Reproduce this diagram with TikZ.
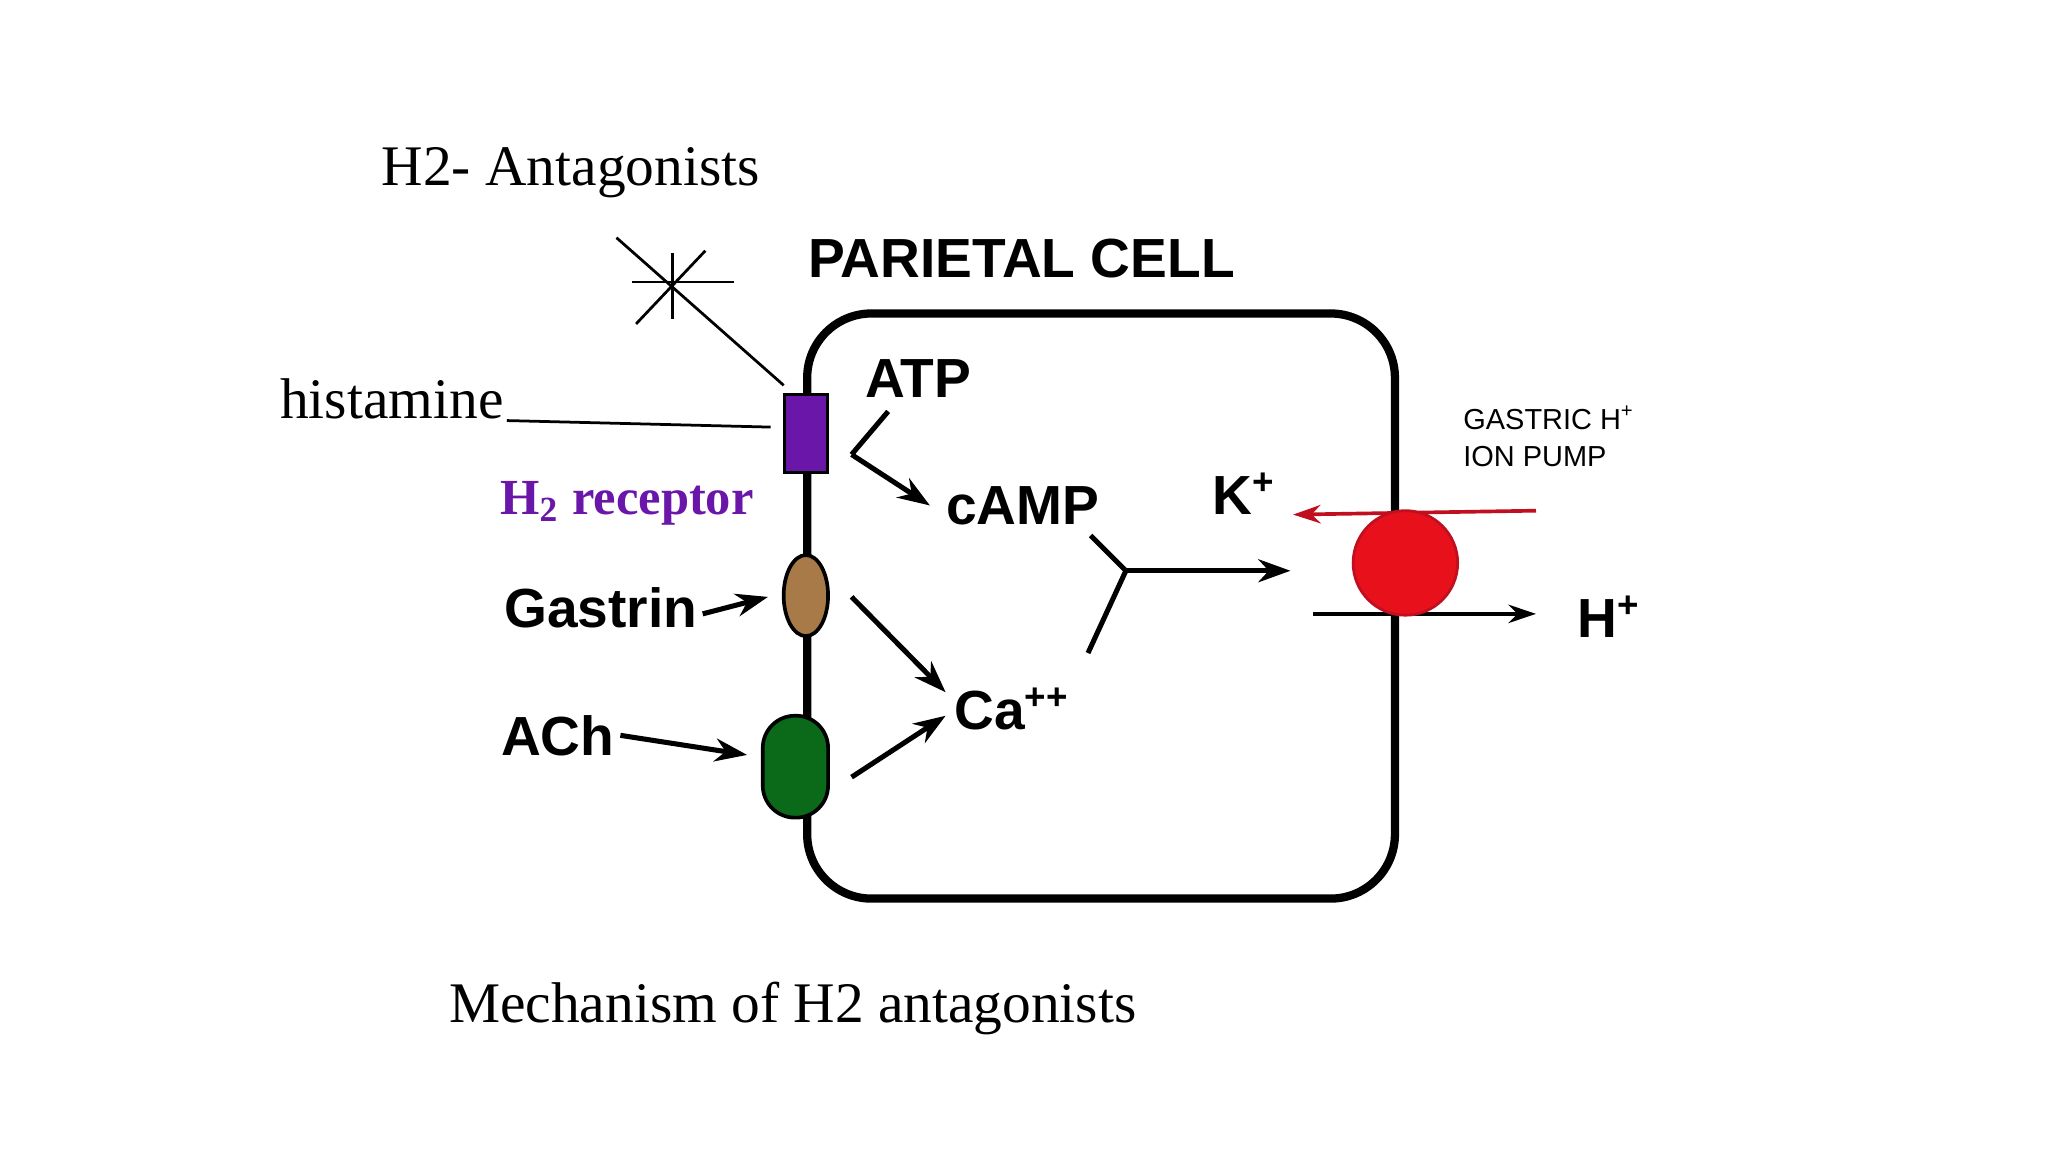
\documentclass[tikz,border=0pt]{standalone}
\usepackage{fontspec}
\setmainfont{Liberation Serif}
\setsansfont{Liberation Sans}
\usetikzlibrary{arrows.meta,shapes.geometric}
\definecolor{rpurple}{HTML}{6A16A8}
\definecolor{rbrown}{HTML}{A87A48}
\definecolor{rgreen}{HTML}{0A6A1A}
\definecolor{rred}{HTML}{E8101A}
\definecolor{darr}{HTML}{C01020}
\begin{document}
\begin{tikzpicture}[x=0.01cm,y=-0.01cm,
  serif/.style={font=\fontsize{12.5}{14}\selectfont},
  lab/.style={font=\sffamily\bfseries\fontsize{12}{14}\selectfont},
  arr/.style={-{Stealth[length=7pt,width=5pt]},line width=1.1pt},
  thin/.style={line width=0.6pt}]
\useasboundingbox (0,0) rectangle (1568,882);
\fill[white] (0,0) rectangle (1568,882);
% cell
\draw[line width=1.8pt,rounded corners=14pt] (618,240) rectangle (1068,688);
\node[lab] (title) at (782,198) {PARIETAL CELL};
\node[serif] (ant) at (437,132) {H2- Antagonists};
% star
\coordinate (s1) at (472,182); \coordinate (s2) at (600,295);
\draw[thin] (s1) -- (s2);
\draw[thin] (484,216) -- (562,216);
\draw[thin] (515,194) -- (515,244);
\draw[thin] (487,248) -- (540,192);
% histamine
\node[serif] (hist) at (300,305) {histamine};
\coordinate (h1) at (388,322); \coordinate (h2) at (590,327);
\draw[thin] (h1) -- (h2);
% receptors
\node[draw=black,fill=rpurple,minimum width=0.33cm,minimum height=0.6cm,inner sep=0,line width=0.6pt] (h2r) at (617,332) {};
\node[text=rpurple,font=\bfseries\fontsize{11}{13}\selectfont] (h2lab) at (480,385) {H\textsubscript{2} receptor};
\node[draw=black,fill=rbrown,ellipse,minimum width=0.34cm,minimum height=0.62cm,inner sep=0,line width=0.8pt] (gr) at (617,456) {};
\node[draw=black,fill=rgreen,rounded corners=7pt,minimum width=0.5cm,minimum height=0.78cm,inner sep=0,line width=0.8pt] (ar) at (609,587) {};
% labels
\node[lab] (gas) at (460,465) {Gastrin};
\coordinate (g1) at (538,470);
\draw[arr] (g1) -- (588,457);
\node[lab] (ach) at (427,563) {ACh};
\coordinate (a1) at (475,563);
\draw[arr] (a1) -- (572,578);
\node[lab] (atp) at (703,290) {ATP};
\node[lab] (camp) at (783,387) {cAMP};
\coordinate (t1) at (680,315); \coordinate (t2) at (652,348);
\draw[line width=1.1pt] (t1) -- (t2);
\draw[arr] (t2) -- (camp.west);
\node[lab] (ca) at (775,543) {Ca\textsuperscript{++}};
\coordinate (c1) at (652,457); \coordinate (c2) at (652,595);
\draw[arr] (c1) -- (724,530);
\draw[arr] (c2) -- (724,548);
\coordinate (y1) at (835,410); \coordinate (y2) at (862,437); \coordinate (y3) at (833,500);
\draw[line width=1.1pt] (y1) -- (y2) -- (y3);
\coordinate (y4) at (988,437);
\draw[arr] (y2) -- (y4);
\node[lab] (k) at (953,378) {K\textsuperscript{+}};
% pump
\coordinate (r1) at (1176,391); \coordinate (r2) at (990,394);
\draw[-{Stealth[length=6pt,width=4pt]},line width=0.8pt,darr] (r1) -- (r2);
\coordinate (p1) at (1005,470); \coordinate (p2) at (1176,470);
\draw[-{Stealth[length=6pt,width=4pt]},line width=0.8pt] (p1) -- (p2);
\node[draw=darr,fill=rred,circle,minimum size=0.8cm,inner sep=0,line width=0.6pt] (pump) at (1076,431) {};
\node[lab] (hp) at (1232,472) {H\textsuperscript{+}};
\node[font=\sffamily\fontsize{6.3}{8}\selectfont,align=left,anchor=west] (gp) at (1108,334) {GASTRIC H\textsuperscript{+}\\ION PUMP};
\node[serif] (cap) at (607,772) {Mechanism of H2 antagonists};
\end{tikzpicture}
\end{document}
